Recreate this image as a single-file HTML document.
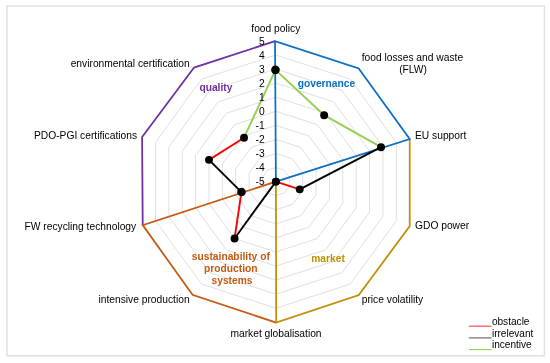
<!DOCTYPE html>
<html><head><meta charset="utf-8"><title>radar</title>
<style>
html,body{margin:0;padding:0;background:#fff;}
body{width:550px;height:363px;overflow:hidden;position:relative;}
svg{position:absolute;left:0;top:0;}
.t{font-family:"Liberation Sans",Arial,sans-serif;font-size:10.25px;fill:#000;}
.b{font-family:"Liberation Sans",Arial,sans-serif;font-size:10.25px;font-weight:bold;}
</style></head><body>
<svg width="550" height="363" viewBox="0 0 550 363">
<rect x="7" y="6" width="537.4" height="349.85" fill="#fff" stroke="#e1e1e1" stroke-width="1.5"/>
<polygon points="275.90,167.53 284.17,170.22 289.28,177.25 289.28,185.95 284.17,192.98 275.90,195.67 267.63,192.98 262.52,185.95 262.52,177.25 267.63,170.22" fill="none" stroke="#e0e0e0" stroke-width="1"/>
<polygon points="275.90,153.46 292.44,158.83 302.66,172.90 302.66,190.30 292.44,204.37 275.90,209.74 259.36,204.37 249.14,190.30 249.14,172.90 259.36,158.83" fill="none" stroke="#e0e0e0" stroke-width="1"/>
<polygon points="275.90,139.39 300.71,147.45 316.04,168.56 316.04,194.64 300.71,215.75 275.90,223.81 251.09,215.75 235.76,194.64 235.76,168.56 251.09,147.45" fill="none" stroke="#e0e0e0" stroke-width="1"/>
<polygon points="275.90,125.32 308.98,136.07 329.43,164.21 329.43,198.99 308.98,227.13 275.90,237.88 242.82,227.13 222.37,198.99 222.37,164.21 242.82,136.07" fill="none" stroke="#e0e0e0" stroke-width="1"/>
<polygon points="275.90,111.25 317.25,124.69 342.81,159.86 342.81,203.34 317.25,238.51 275.90,251.95 234.55,238.51 208.99,203.34 208.99,159.86 234.55,124.69" fill="none" stroke="#e0e0e0" stroke-width="1"/>
<polygon points="275.90,97.18 325.52,113.30 356.19,155.51 356.19,207.69 325.52,249.90 275.90,266.02 226.28,249.90 195.61,207.69 195.61,155.51 226.28,113.30" fill="none" stroke="#e0e0e0" stroke-width="1"/>
<polygon points="275.90,83.11 333.79,101.92 369.57,151.16 369.57,212.04 333.79,261.28 275.90,280.09 218.01,261.28 182.23,212.04 182.23,151.16 218.01,101.92" fill="none" stroke="#e0e0e0" stroke-width="1"/>
<polygon points="275.90,69.04 342.06,90.54 382.95,146.82 382.95,216.38 342.06,272.66 275.90,294.16 209.74,272.66 168.85,216.38 168.85,146.82 209.74,90.54" fill="none" stroke="#e0e0e0" stroke-width="1"/>
<polygon points="275.90,54.97 350.33,79.15 396.33,142.47 396.33,220.73 350.33,284.05 275.90,308.23 201.47,284.05 155.47,220.73 155.47,142.47 201.47,79.15" fill="none" stroke="#e0e0e0" stroke-width="1"/>
<polygon points="275.90,40.90 358.60,67.77 409.71,138.12 409.71,225.08 358.60,295.43 275.90,322.30 193.20,295.43 142.09,225.08 142.09,138.12 193.20,67.77" fill="none" stroke="#e0e0e0" stroke-width="1"/>
<polyline points="142.75,225.10 142.10,137.00 194.10,67.55 275.00,41.10" fill="none" stroke="#7030a0" stroke-width="1.75" stroke-linejoin="miter"/>
<polyline points="276.20,322.60 192.50,294.80 142.75,225.10 275.90,181.60" fill="none" stroke="#c55a11" stroke-width="1.75" stroke-linejoin="miter"/>
<polyline points="409.70,139.00 409.70,226.20 358.80,295.00 276.20,322.60 275.90,181.60" fill="none" stroke="#bf9000" stroke-width="1.75" stroke-linejoin="miter"/>
<polyline points="275.90,181.60 275.00,41.10 358.70,68.50 409.70,139.00 275.90,181.60" fill="none" stroke="#0b6fc4" stroke-width="1.75" stroke-linejoin="miter"/>
<line x1="275.45" y1="69.85" x2="324.15" y2="115.20" stroke="#92d050" stroke-width="1.9"/>
<line x1="324.15" y1="115.20" x2="381.05" y2="147.20" stroke="#92d050" stroke-width="1.9"/>
<line x1="381.05" y1="147.20" x2="299.72" y2="189.34" stroke="#000000" stroke-width="1.9"/>
<line x1="299.72" y1="189.34" x2="275.90" y2="181.60" stroke="#ff0000" stroke-width="1.9"/>
<line x1="275.90" y1="181.60" x2="275.90" y2="181.60" stroke="#000000" stroke-width="1.9"/>
<line x1="275.90" y1="181.60" x2="234.55" y2="238.51" stroke="#000000" stroke-width="1.9"/>
<line x1="234.55" y1="238.51" x2="241.45" y2="192.05" stroke="#ff0000" stroke-width="1.9"/>
<line x1="241.45" y1="192.05" x2="208.99" y2="159.86" stroke="#000000" stroke-width="1.9"/>
<line x1="208.99" y1="159.86" x2="244.05" y2="137.70" stroke="#ff0000" stroke-width="1.9"/>
<line x1="244.05" y1="137.70" x2="275.45" y2="69.85" stroke="#92d050" stroke-width="1.9"/>
<circle cx="275.45" cy="69.85" r="4.35" fill="#000"/>
<circle cx="324.15" cy="115.20" r="3.95" fill="#000"/>
<circle cx="381.05" cy="147.20" r="3.95" fill="#000"/>
<circle cx="299.72" cy="189.34" r="3.95" fill="#000"/>
<circle cx="275.90" cy="181.60" r="3.95" fill="#000"/>
<circle cx="275.90" cy="181.60" r="3.95" fill="#000"/>
<circle cx="234.55" cy="238.51" r="3.95" fill="#000"/>
<circle cx="241.45" cy="192.05" r="4.3" fill="#000"/>
<circle cx="208.99" cy="159.86" r="3.95" fill="#000"/>
<circle cx="244.05" cy="137.70" r="3.95" fill="#000"/>
<text x="264.6" y="44.50" text-anchor="end" class="t">5</text>
<text x="264.6" y="58.57" text-anchor="end" class="t">4</text>
<text x="264.6" y="72.64" text-anchor="end" class="t">3</text>
<text x="264.6" y="86.71" text-anchor="end" class="t">2</text>
<text x="264.6" y="100.78" text-anchor="end" class="t">1</text>
<text x="264.6" y="114.85" text-anchor="end" class="t">0</text>
<text x="264.6" y="128.92" text-anchor="end" class="t">-1</text>
<text x="264.6" y="142.99" text-anchor="end" class="t">-2</text>
<text x="264.6" y="157.06" text-anchor="end" class="t">-3</text>
<text x="264.6" y="171.13" text-anchor="end" class="t">-4</text>
<text x="264.6" y="185.20" text-anchor="end" class="t">-5</text>
<text x="275.8" y="32.4" text-anchor="middle" class="t">food policy</text>
<text x="412.4" y="60.5" text-anchor="middle" class="t">food losses and waste</text>
<text x="413" y="72.5" text-anchor="middle" class="t">(FLW)</text>
<text x="415" y="139.3" text-anchor="start" class="t">EU support</text>
<text x="415" y="229.4" text-anchor="start" class="t">GDO power</text>
<text x="361.7" y="303" text-anchor="start" class="t">price volatility</text>
<text x="276.0" y="336.65" text-anchor="middle" class="t">market globalisation</text>
<text x="189.6" y="303" text-anchor="end" class="t">intensive production</text>
<text x="136.2" y="230" text-anchor="end" class="t">FW recycling technology</text>
<text x="137.1" y="139.2" text-anchor="end" class="t">PDO-PGI certifications</text>
<text x="189.75" y="66.7" text-anchor="end" class="t">environmental certification</text>
<text x="215.9" y="90.75" text-anchor="middle" class="b" fill="#7030a0">quality</text>
<text x="326.45" y="86.75" text-anchor="middle" class="b" fill="#0b6fc4">governance</text>
<text x="328" y="262" text-anchor="middle" class="b" fill="#bf9000">market</text>
<text x="230.8" y="260" text-anchor="middle" class="b" fill="#c55a11">sustainability of</text>
<text x="230.8" y="272.3" text-anchor="middle" class="b" fill="#c55a11">production</text>
<text x="232" y="283.9" text-anchor="middle" class="b" fill="#c55a11">systems</text>
<line x1="468.8" y1="326.2" x2="491.6" y2="326.2" stroke="#ff4d4d" stroke-width="1.2"/>
<text x="491.9" y="324.9" class="t" style="font-size:10.1px">obstacle</text>
<line x1="468.8" y1="337.9" x2="491.6" y2="337.9" stroke="#6a6a6a" stroke-width="1.2"/>
<text x="491.9" y="336.9" class="t" style="font-size:10.1px">irrelevant</text>
<line x1="468.8" y1="349.6" x2="491.6" y2="349.6" stroke="#9ad65f" stroke-width="1.2"/>
<text x="491.9" y="348.4" class="t" style="font-size:10.1px">incentive</text>
</svg>
</body></html>
